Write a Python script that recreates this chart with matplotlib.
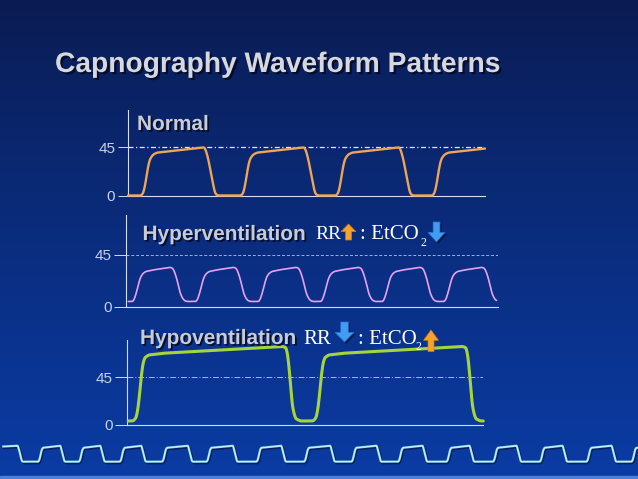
import numpy as np
import matplotlib
matplotlib.use("Agg")
import matplotlib.pyplot as plt
import matplotlib.patheffects as pe
from matplotlib.patches import Polygon

plt.rcParams['font.family'] = ['Liberation Sans', 'DejaVu Sans']

# ---------------- data ----------------
# time in arbitrary units, CO2 in mmHg
title = "Capnography Waveform Patterns"
panel_names = ["Normal", "Hyperventilation", "Hypoventilation"]
y_ticks = [0, 45]
y_ticklabels = ["0", "45"]

# Normal: one breath (offsets from start of upstroke) and breath start times
normal_cycle_t = [0, 2.5, 5, 7.5, 11, 15, 58, 63, 66, 70, 73, 76]
normal_cycle_co2 = [0, 5, 20, 33, 38, 40, 44.5, 45, 36, 17, 2, 0]
normal_starts = [13.7, 113.7, 208.7, 305]
normal_span = [0, 357]

# Hyperventilation: faster rate, lower EtCO2
hyper_cycle_t = [0, 3, 6, 8.5, 12, 20, 37, 40, 43.5, 46.7, 50, 53]
hyper_cycle_co2 = [4.4, 12, 23, 28, 30.5, 32, 34.3, 33, 24, 11.5, 5.8, 4.4]
hyper_starts = [7.3, 70.7, 133.3, 195.7, 257.3, 319]
hyper_span = [2.3, 370.7]

# Hypoventilation: slower rate, higher EtCO2
hypo_cycle_t = [0, 3.4, 6, 8.4, 10.7, 15, 30, 146.7, 150, 153.4, 156, 158.4, 161.7, 166.7]
hypo_cycle_co2 = [3.8, 7.9, 26.7, 52, 63, 66, 67.7, 74, 74, 72.4, 52, 20.5, 6.3, 3.8]
hypo_starts = [6.3, 186.3]
hypo_span = [1.3, 356.3]

# decorative strip at the bottom (normalised 0..1)
strip_rises = [38.3, 79, 120, 162.3, 206.7, 256.7, 304.3, 351.7, 398.3, 446.7, 493.3, 540, 586.7, 631.7]
strip_falls = [18.3, 60.7, 100.7, 141.7, 188.3, 233.3, 281.7, 330.7, 377, 423, 470, 517, 563, 612]

# ---------------- helpers ----------------
W, H = 638, 479
fig = plt.figure(figsize=(W / 100, H / 100), dpi=100)


def fx(px):
    return px / W


def fy(py):
    return 1 - py / H


def trace(starts, cyc_t, cyc_v, span, step=0.25, win=12):
    kt = [span[0]]
    kv = [cyc_v[0]]
    for s in starts:
        for dt, val in zip(cyc_t, cyc_v):
            kt.append(s + dt)
            kv.append(val)
    tt = np.arange(span[0], span[1] + 1e-9, step)
    vv = np.interp(tt, kt, kv)
    k = np.ones(win) / win
    vp = np.pad(vv, (win // 2, win - 1 - win // 2), mode='edge')
    return tt, np.convolve(vp, k, mode='valid')


# ---------------- background ----------------
bg = fig.add_axes([0, 0, 1, 1], zorder=-5)
top = np.array([0x0a, 0x1b, 0x52]) / 255
bot = np.array([0x0b, 0x3c, 0xa4]) / 255
g = np.linspace(0, 1, 256)[:, None] ** 0.9
grad = top[None, :] * (1 - g) + bot[None, :] * g
bg.imshow(grad[:, None, :], extent=(0, W, H, 0), aspect='auto')
bg.axhspan(476, 479, color='#4d7fd8')
bg.set_xlim(0, W)
bg.set_ylim(H, 0)
bg.axis('off')

# ---------------- panels ----------------
panels = [
    dict(name="Normal", left=128, right=485, base=195.5, px45=48.2,
         starts=normal_starts, ct=normal_cycle_t, cv=normal_cycle_co2, span=normal_span,
         color='#efa556', lw=1.7, ref=dict(color='#dfe6ff', lw=0.9, dashes=(4, 2, 1, 2)), tl=7.2),
    dict(name="Hyperventilation", left=126, right=498, base=306.5, px45=51.5,
         starts=hyper_starts, ct=hyper_cycle_t, cv=hyper_cycle_co2, span=hyper_span,
         color='#e6a2f0', lw=1.2, ref=dict(color='#9fb0e0', lw=0.7, dashes=(3, 2)), tl=8.5),
    dict(name="Hypoventilation", left=127, right=483, base=425, px45=47.7,
         starts=hypo_starts, ct=hypo_cycle_t, cv=hypo_cycle_co2, span=hypo_span,
         color='#a5d53a', lw=2.2, ref=dict(color='#a8b8e4', lw=0.7, dashes=(6, 2, 1, 2)), tl=8.5),
]

axis_col = '#d4dcf2'
for p in panels:
    ymax = 80
    hpx = ymax * p['px45'] / 45
    ax = fig.add_axes([fx(p['left']), fy(p['base']), fx(p['right'] - p['left']), hpx / H])
    ax.set_facecolor('none')
    ax.set_xlim(0, p['right'] - p['left'])
    ax.set_ylim(0, ymax)
    for s in ['top', 'right']:
        ax.spines[s].set_visible(False)
    for s in ['left', 'bottom']:
        ax.spines[s].set_color(axis_col)
        ax.spines[s].set_linewidth(0.8)
    ax.set_xticks([])
    ax.set_yticks(y_ticks)
    ax.set_yticklabels(y_ticklabels)
    ax.tick_params(axis='y', colors=axis_col, labelcolor='#c9d0e6', labelsize=11,
                   length=p['tl'], width=0.7, pad=2)
    ax.axhline(45, color=p['ref']['color'], lw=p['ref']['lw'], dashes=p['ref']['dashes'], zorder=1)
    t, v = trace(p['starts'], p['ct'], p['cv'], p['span'])
    ax.plot(t, v, color=p['color'], lw=p['lw'], clip_on=False, zorder=3,
            solid_capstyle='round', solid_joinstyle='round')

# ---------------- bottom strip waveform ----------------
sx = fig.add_axes([0, fy(465), 1, 25 / H])
sx.set_facecolor('none')
sx.axis('off')
kt = [3.3, 17.8]
kv = [0.95, 1.0]
for f in strip_falls:
    if f > 20:
        kt += [f - 0.3]
        kv += [1.0]
    kt += [f + 1.7, f + 3.3, f + 4.3]
    kv += [0.5, 0.06, 0.0]
for r in strip_rises:
    kt += [r, r + 1.2, r + 3.0, r + 4.4]
    kv += [0.0, 0.15, 0.7, 0.87]
order = np.argsort(kt)
kt = np.array(kt)[order]
kv = np.array(kv)[order]
st = np.arange(3.3, 638.01, 0.2)
sv = np.interp(st, kt, kv)
win = 6
sv = np.convolve(np.pad(sv, (win // 2, win - 1 - win // 2), mode='edge'), np.ones(win) / win, mode='valid')
sx.set_xlim(0, W)
sx.set_ylim(-(465 - 461.7) / 16, 1 + (445.7 - 440) / 16)
sx.plot(st + 1.0, sv - 0.08, color='#061640', lw=2.0, alpha=0.7, solid_joinstyle='round')
sx.plot(st, sv, color='#8fd6f2', lw=1.6, solid_joinstyle='round')
sx.plot(st, sv, color='#e8f8ff', lw=0.5, solid_joinstyle='round')

# ---------------- text and arrows overlay ----------------
ov = fig.add_axes([0, 0, 1, 1], zorder=10)
ov.set_facecolor('none')
ov.set_xlim(0, W)
ov.set_ylim(H, 0)
ov.axis('off')

shadow = [pe.withSimplePatchShadow(offset=(1.6, -1.6), shadow_rgbFace='#020a25', alpha=0.85)]
ov.text(55, 72, title, fontsize=20.3, weight='bold', color='#d6d8de', va='baseline', path_effects=shadow)
shadow2 = [pe.withSimplePatchShadow(offset=(1.3, -1.3), shadow_rgbFace='#020a25', alpha=0.85)]
ov.text(137, 130, panel_names[0], fontsize=15, weight='bold', color='#c8cbd3', va='baseline', path_effects=shadow2)
ov.text(142.5, 240, panel_names[1], fontsize=15, weight='bold', color='#c8cbd3', va='baseline', path_effects=shadow2)
ov.text(140, 344, panel_names[2], fontsize=15, weight='bold', color='#c8cbd3', va='baseline', path_effects=shadow2)

serif = ['Liberation Serif', 'DejaVu Serif']
ov.text(315, 239, 'RR', family=serif, fontsize=14, color='white', va='baseline')
ov.text(360, 239, ': EtCO', family=serif, fontsize=15, color='white', va='baseline')
ov.text(420.5, 246, '2', family=serif, fontsize=8.5, color='white', va='baseline')
ov.text(303, 344, 'RR', family=serif, fontsize=15, color='white', va='baseline')
ov.text(358.3, 344, ': EtCO', family=serif, fontsize=15, color='white', va='baseline')
ov.text(415.5, 350.5, '2', family=serif, fontsize=8.5, color='white', va='baseline')


def block_arrow(x0, x1, ya, yb, up, face, edge, shadow=False):
    w = x1 - x0
    xc = (x0 + x1) / 2
    sh = w * 0.2
    hl = (yb - ya) * 0.48
    if up:
        pts = [(xc, ya), (x1, ya + hl), (xc + sh, ya + hl), (xc + sh, yb),
               (xc - sh, yb), (xc - sh, ya + hl), (x0, ya + hl)]
    else:
        pts = [(xc, yb), (x1, yb - hl), (xc + sh, yb - hl), (xc + sh, ya),
               (xc - sh, ya), (xc - sh, yb - hl), (x0, yb - hl)]
    if shadow:
        sp = [(x + 1.8, y + 1.8) for x, y in pts]
        ov.add_patch(Polygon(sp, closed=True, fc='#04103a', ec='none', alpha=0.8))
    ov.add_patch(Polygon(pts, closed=True, fc=face, ec=edge, lw=0.5))


orange, orange_e = '#f7a32a', '#d07a12'
blue, blue_e = '#3f9df3', '#2a6fc8'
block_arrow(341, 356, 224, 240, True, orange, orange_e)
block_arrow(428, 445, 222, 242, False, blue, blue_e, shadow=True)
block_arrow(335, 354, 322, 342, False, blue, blue_e, shadow=True)
block_arrow(423.5, 438.5, 330, 351.5, True, orange, orange_e)

fig.savefig('out.png', dpi=100)
